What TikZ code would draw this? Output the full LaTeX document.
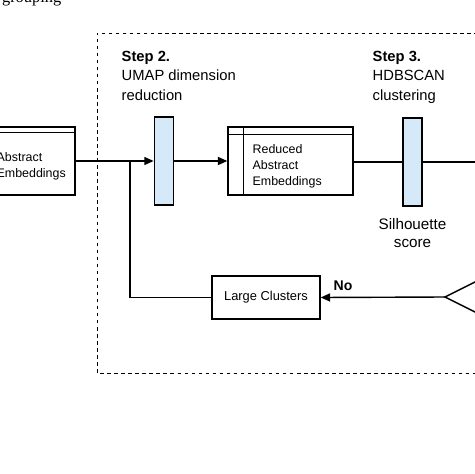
\documentclass[tikz,border=0pt]{standalone}
\usepackage{fontspec}
\setmainfont{Liberation Sans}
\newfontfamily\captfont{Liberation Serif}
\usepackage{xcolor}
\usepackage{tikz}
\usetikzlibrary{arrows.meta,positioning,calc}

\definecolor{barblue}{RGB}{214,233,248}

\begin{document}
\begin{tikzpicture}[
    x=0.3mm, y=-0.3mm,
    >={Triangle[length=2.8mm,width=2.4mm]},
    line width=1.2pt,
    font=\fontsize{10}{12}\selectfont,
    databox/.style={draw, minimum width=#1, minimum height=20.4mm, inner sep=0pt},
    bar/.style={draw, fill=barblue, minimum width=5.8mm, minimum height=26.4mm, inner sep=0pt},
    steplabel/.style={align=left, anchor=north west, inner sep=0pt,
                      font=\fontsize{12.6}{17}\selectfont},
    boxtext/.style={align=left, anchor=west, inner sep=0pt,
                    font=\fontsize{10.6}{13.8}\selectfont},
  ]
    \useasboundingbox (0,0) rectangle (474,474);

    % --- caption fragment cut off at the top ---
    \node[anchor=base east, inner sep=0pt, font=\captfont\fontsize{14}{16}\selectfont]
      (capt) at (62,3) {grouping};

    % --- dashed frame of steps 2 and 3 ---
    \draw[dashed, line width=0.8pt] (520,33) -- (97,33) -- (97,373) -- (520,373);

    % --- input embeddings ---
    \node[databox=28.5mm] (emb) at (27.5,161) {};
    \draw (emb.north west) ++(0,6) coordinate (embh) -- (embh -| emb.east);
    \node[boxtext] (embtxt) at (-4,166) {Abstract\\Embeddings};

    % --- step 2: UMAP ---
    \node[steplabel] (s2) at (121,50) {\textbf{Step 2.}\\UMAP dimension\\reduction};
    \node[bar] (umap) at (164,161) {};

    % --- reduced embeddings ---
    \node[databox=37.5mm] (red) at (290.5,161) {};
    \draw (red.north west) ++(16,0) coordinate (redv) -- (redv |- red.south);
    \draw (red.north west) ++(0,8) coordinate (redh) -- (redh -| red.east);
    \node[boxtext] (redtxt) at (252,166) {Reduced\\Abstract\\Embeddings};

    % --- step 3: HDBSCAN ---
    \node[steplabel] (s3) at (372,50) {\textbf{Step 3.}\\HDBSCAN\\clustering};
    \node[bar] (hdb) at (412.5,162) {};
    \node[align=center, inner sep=0pt, font=\fontsize{13}{15.5}\selectfont,
          below=3.4mm of hdb] (sil) {Silhouette\\score};

    % --- decision and feedback ---
    \coordinate (dtip) at (445,297);
    \draw (dtip) -- ++(60,-30) -- ++(60,30) -- ++(-60,30) -- cycle;
    \node[draw, minimum width=32.4mm, minimum height=12.9mm, inner sep=0pt,
          font=\fontsize{11}{13}\selectfont]
      (large) at (266,297.5) {Large Clusters};
    \coordinate (jn) at (130,161);
    \coordinate (out) at (520,162);

    \draw (emb.east) -- (jn);
    \draw[->] (jn) -- (umap.west);
    \draw[->] (umap.east) -- (red.west);
    \draw (red.east |- hdb.west) -- (hdb.west);
    \draw (hdb.east) -- (out);
    \draw[->] (dtip) -- node[above=2pt, pos=0.82, font=\bfseries\fontsize{12}{14}\selectfont] {No}
      (large.east);
    \draw (large.west) -| (jn);
  \end{tikzpicture}
\end{document}
